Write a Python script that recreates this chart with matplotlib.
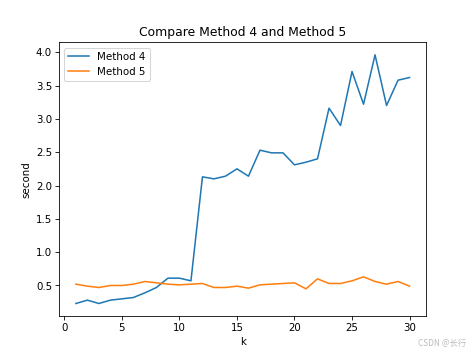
import matplotlib
matplotlib.use("Agg")
import matplotlib.pyplot as plt

k = list(range(1, 31))
method4 = [0.23, 0.28, 0.23, 0.28, 0.30, 0.32, 0.39, 0.47, 0.61, 0.61,
           0.57, 2.13, 2.10, 2.14, 2.25, 2.14, 2.53, 2.49, 2.49, 2.31,
           2.35, 2.40, 3.16, 2.90, 3.71, 3.22, 3.96, 3.20, 3.58, 3.62]
method5 = [0.52, 0.49, 0.47, 0.50, 0.50, 0.52, 0.56, 0.54, 0.52, 0.51,
           0.52, 0.53, 0.47, 0.47, 0.49, 0.46, 0.51, 0.52, 0.53, 0.54,
           0.45, 0.60, 0.53, 0.53, 0.57, 0.63, 0.56, 0.52, 0.56, 0.49]

fig, ax = plt.subplots(figsize=(6.4, 4.8), dpi=74)
ax.plot(k, method4, label="Method 4")
ax.plot(k, method5, label="Method 5")
ax.set_title("Compare Method 4 and Method 5")
ax.set_xlabel("k")
ax.set_ylabel("second")
ax.legend(loc="upper left")

# watermark
fig.text(0.985, 0.02, "CSDN @长行", ha="right", va="bottom", fontsize=8,
         color="#bbbbbb", family=["Noto Sans CJK SC", "DejaVu Sans"])

fig.savefig("out.png")
